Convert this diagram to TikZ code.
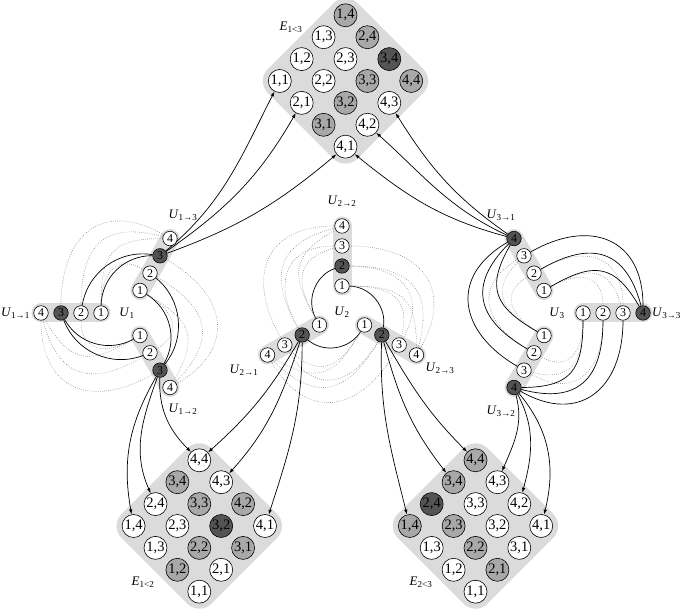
\documentclass[tikz,border=0pt]{standalone}
\usepackage{fontspec}
\setmainfont{Liberation Serif}
\usetikzlibrary{arrows.meta}
\definecolor{bgc}{gray}{0.86}
\definecolor{midc}{gray}{0.66}
\definecolor{darkc}{gray}{0.33}
\definecolor{dotc}{gray}{0.5}
\pgfdeclarelayer{bg}
\pgfdeclarelayer{mid}
\pgfsetlayers{bg,mid,main}
\tikzset{
 smallc/.style={circle,draw=black,line width=0.6pt,fill=white,inner sep=0pt,minimum size=14.5pt,font=\fontsize{12}{12}\selectfont},
 smalld/.style={smallc,fill=darkc},
 cellw/.style={circle,draw=black,line width=0.6pt,fill=white,inner sep=0pt,minimum size=23pt,font=\fontsize{14.5}{14.5}\selectfont},
 cellm/.style={cellw,fill=midc},
 celld/.style={cellw,fill=darkc},
 pillbg/.style={draw=bgc,line width=19pt,line cap=round},
 diambg/.style={draw=bgc,fill=bgc,line width=34pt,line join=round},
 labtext/.style={inner sep=1pt,font=\fontsize{13}{13}\selectfont},
 solidarc/.style={draw=black,line width=0.7pt},
 dotarc/.style={draw=dotc,line width=0.6pt,dash pattern=on 0.6pt off 1.5pt},
 arrline/.style={draw=black,line width=0.7pt,-{Latex[length=5pt,width=3.4pt]}},
}
\newcommand\mkbar[5]{%
 \foreach \k in {1,...,4}{%
   \ifnum\k=#5\relax\def\st{smalld}\else\def\st{smallc}\fi
   \node[\st] (u#1-#4-\k) at ([shift={(#3:6+20*\k)}]#2) {\k};
 }%
 \begin{pgfonlayer}{bg}
   \draw[pillbg] (u#1-#4-1.center) -- (u#1-#4-4.center);
 \end{pgfonlayer}%
}
% #1 cluster, #2 source angle, #3 source bar, #4 target bar, #5 dark value, #6 bend for solid arcs (0 = spiral-like)
\newcommand\mkarcs[6]{%
 \begin{pgfonlayer}{mid}
 \foreach \k in {2,3,4}{%
  \pgfmathtruncatemacro\km{\k-1}%
  \foreach \m in {1,...,\km}{%
   \pgfmathsetmacro\tilt{max(0,0.75*(20*(\k-\m)-20))}%
   \pgfmathsetmacro\oa{#2+90+\tilt}%
   \pgfmathsetmacro\ia{#2+30}%
   \ifnum\k=#5\relax
     \ifnum#6=0\relax
       \path[solidarc] (u#1-#3-\k) to[out=\oa,in=\ia,looseness=1.4] (u#1-#4-\m);
     \else
       \path[solidarc] (u#1-#3-\k) to[bend right=#6] (u#1-#4-\m);
     \fi
   \else
     \path[dotarc] (u#1-#3-\k) to[out=\oa,in=\ia,looseness=1.45] (u#1-#4-\m);
   \fi
  }%
 }%
 \end{pgfonlayer}%
}
\begin{document}
\begin{tikzpicture}[x=1pt,y=1pt]
\useasboundingbox (0,0) rectangle (685,609);

% ---- grids ----
\foreach \i/\j/\c in {1/1/cellw,1/2/cellw,1/3/cellw,1/4/cellm,2/1/cellw,2/2/cellw,2/3/cellw,2/4/cellm,3/1/cellm,3/2/cellm,3/3/cellm,3/4/celld,4/1/cellw,4/2/cellw,4/3/cellw,4/4/cellm}
  \node[\c] (e13-\i-\j) at ({345.5+21.9*(\i+\j-5)},{528+21.9*(\j-\i)}) {\i,\j};
\foreach \i/\j/\c in {1/1/cellw,1/2/cellm,1/3/cellw,1/4/cellw,2/1/cellw,2/2/cellm,2/3/cellw,2/4/cellw,3/1/cellm,3/2/celld,3/3/cellm,3/4/cellm,4/1/cellw,4/2/cellm,4/3/cellw,4/4/cellw}
  \node[\c] (e12-\i-\j) at ({199.3+21.9*(\i-\j)},{83+21.9*(\i+\j-5)}) {\i,\j};
\foreach \i/\j/\c in {1/1/cellw,1/2/cellw,1/3/cellw,1/4/cellm,2/1/cellm,2/2/cellm,2/3/cellm,2/4/celld,3/1/cellw,3/2/cellw,3/3/cellw,3/4/cellm,4/1/cellw,4/2/cellw,4/3/cellw,4/4/cellm}
  \node[\c] (e23-\i-\j) at ({475.5+21.9*(\i-\j)},{83+21.9*(\i+\j-5)}) {\i,\j};
\begin{pgfonlayer}{bg}
 \foreach \g in {e13,e12,e23}
  \draw[diambg] (\g-1-1.center) -- (\g-1-4.center) -- (\g-4-4.center) -- (\g-4-1.center) -- cycle;
\end{pgfonlayer}

% ---- clusters ----
\mkbar{1}{127,296}{60}{3}{3}
\mkbar{1}{127,296}{180}{1}{3}
\mkbar{1}{127,296}{300}{2}{3}
\mkbar{2}{342,297}{90}{2}{2}
\mkbar{2}{342,297}{210}{1}{2}
\mkbar{2}{342,297}{330}{3}{2}
\mkbar{3}{557,296}{120}{1}{4}
\mkbar{3}{557,296}{240}{2}{4}
\mkbar{3}{557,296}{0}{3}{4}

\mkarcs{1}{60}{3}{1}{3}{45}
\mkarcs{1}{180}{1}{2}{3}{45}
\mkarcs{1}{300}{2}{3}{3}{45}
\mkarcs{2}{90}{2}{1}{2}{50}
\mkarcs{2}{210}{1}{3}{2}{50}
\mkarcs{2}{330}{3}{2}{2}{50}
\mkarcs{3}{120}{1}{2}{4}{0}
\mkarcs{3}{240}{2}{3}{4}{0}
\mkarcs{3}{0}{3}{1}{4}{0}

% ---- labels ----
\node[labtext] (lu1) at (127,296) {\textit{U}\textsubscript{1}};
\node[labtext] (lu2) at (342,297) {\textit{U}\textsubscript{2}};
\node[labtext] (lu3) at (557,296) {\textit{U}\textsubscript{3}};
\node[labtext,anchor=east] (l11) at (31,296) {\textit{U}\textsubscript{1→1}};
\node[labtext] (l13) at (183,394) {\textit{U}\textsubscript{1→3}};
\node[labtext] (l12) at (183,200) {\textit{U}\textsubscript{1→2}};
\node[labtext] (l22) at (342,408) {\textit{U}\textsubscript{2→2}};
\node[labtext] (l21) at (244,239) {\textit{U}\textsubscript{2→1}};
\node[labtext] (l23) at (440,241) {\textit{U}\textsubscript{2→3}};
\node[labtext] (l31) at (501,394) {\textit{U}\textsubscript{3→1}};
\node[labtext] (l32) at (501,198) {\textit{U}\textsubscript{3→2}};
\node[labtext,anchor=west] (l33) at (651,296) {\textit{U}\textsubscript{3→3}};
\node[labtext] (le13) at (291,582) {\textit{E}\textsubscript{1<3}};
\node[labtext] (le12) at (143,27) {\textit{E}\textsubscript{1<2}};
\node[labtext] (le23) at (421,27) {\textit{E}\textsubscript{2<3}};

% ---- arrows ----
\begin{pgfonlayer}{mid}
\draw[arrline] (u1-3-3) to[out=40,in=243] (e13-1-1);
\draw[arrline] (u1-3-3) to[out=35,in=240] (e13-2-1);
\draw[arrline] (u1-3-3) to[out=20,in=220] (e13-4-1);
\draw[arrline] (u3-1-4) to[out=165,in=321] (e13-4-1);
\draw[arrline] (u3-1-4) to[out=155,in=318] (e13-4-2);
\draw[arrline] (u3-1-4) to[out=145,in=302] (e13-4-3);
\draw[arrline] (u1-2-3) to[out=240,in=100] (e12-1-4);
\draw[arrline] (u1-2-3) to[out=250,in=114] (e12-2-4);
\draw[arrline] (u1-2-3) to[out=268,in=135] (e12-4-4);
\draw[arrline] (u2-1-2) to[out=240,in=42] (e12-4-4);
\draw[arrline] (u2-1-2) to[out=252,in=48] (e12-4-3);
\draw[arrline] (u2-1-2) to[out=270,in=72] (e12-4-1);
\draw[arrline] (u2-3-2) to[out=268,in=104] (e23-1-4);
\draw[arrline] (u2-3-2) to[out=285,in=128] (e23-3-4);
\draw[arrline] (u2-3-2) to[out=300,in=135] (e23-4-4);
\draw[arrline] (u3-2-4) to[out=285,in=67] (e23-4-3);
\draw[arrline] (u3-2-4) to[out=298,in=75] (e23-4-2);
\draw[arrline] (u3-2-4) to[out=310,in=76] (e23-4-1);
\end{pgfonlayer}
\end{tikzpicture}
\end{document}
